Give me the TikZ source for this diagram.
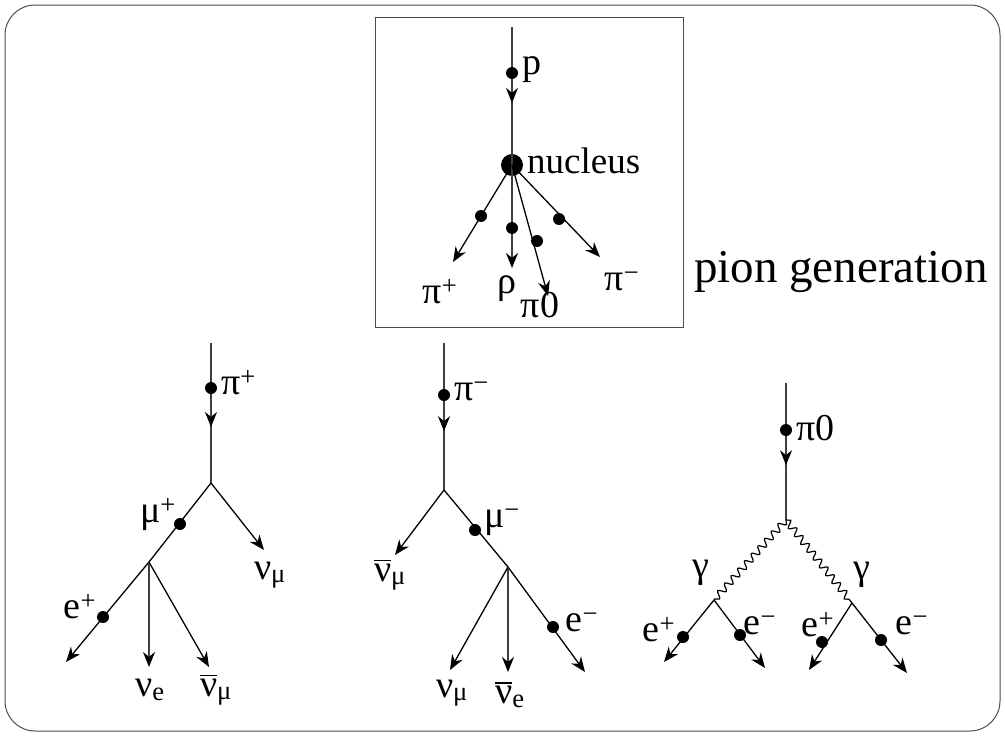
\documentclass[tikz,border=0pt]{standalone}
\usepackage{fontspec}
\setmainfont{Liberation Serif}
\usetikzlibrary{arrows.meta,decorations.markings,decorations.pathmorphing}
\newcommand{\mynubar}{{\setbox0\hbox{ν}\rlap{\rule[1.15\ht0]{\wd0}{1.5pt}}ν}}
\begin{document}
\begin{tikzpicture}[x=1pt,y=-1pt,
  ln/.style={line width=1.6pt,black!75},
  br/.style={line width=1.3pt,black,-{Stealth[length=15pt,width=12pt,black]}},
  mid/.style={postaction={decorate},decoration={markings,mark=at position #1 with {\arrow[black]{Stealth[length=15pt,width=12pt]}}}},
  dot/.style={circle,fill=black,inner sep=0pt,minimum size=12pt},
  lab/.style={font=\fontsize{38}{38}\selectfont,inner sep=1pt},
  wav/.style={line width=1.2pt,decorate,decoration={snake,amplitude=3.5pt,segment length=10pt}}]
\useasboundingbox (0,0) rectangle (1005,736);
\draw[line width=1pt,black!70,rounded corners=30pt] (5,5) rectangle (1000,731);
\draw[line width=1pt,black!70] (375,17) rectangle (683,327);
% top
\coordinate (t0) at (512,27);
\node[circle,fill=black,inner sep=0pt,minimum size=22pt] (nuc) at (512,165) {};
\draw[ln,mid=0.55] (t0) -- (nuc.center);
\node[dot] (pd) at (512,73) {};
\node[lab,anchor=west] (pl) at (521,70) {p};
\node[lab,anchor=west,font=\fontsize{37}{37}\selectfont] (nl) at (526,161) {nucleus};
\coordinate (a1) at (453,262); \coordinate (a2) at (512,268); \coordinate (a3) at (548,296); \coordinate (a4) at (600,257);
\draw[br] (nuc.center) -- (a1); \draw[br,black!75,line width=1.6pt] (nuc.center) -- (a2);
\draw[br] (nuc.center) -- (a3); \draw[br] (nuc.center) -- (a4);
\node[dot] at (481,216) {}; \node[dot] at (512,228) {}; \node[dot] at (537,241) {}; \node[dot] at (559,219) {};
\node[lab] at (440,292) {π\textsuperscript{+}};
\node[lab] at (507,289) {ρ};
\node[lab] at (540,305) {π0};
\node[lab] at (622,281) {π\textsuperscript{−}};
\node[font=\fontsize{47}{47}\selectfont] (pg) at (841,272) {pion generation};
% pi+
\coordinate (b0) at (211,343); \coordinate (b1) at (211,483); \coordinate (b2) at (149,562);
\draw[ln,mid=0.6] (b0) -- (b1);
\node[dot] at (211,388) {}; \node[lab,anchor=west] at (220,383) {π\textsuperscript{+}};
\draw[br] (b1) -- (264,550); \node[lab] at (270,575) {ν\textsubscript{μ}};
\draw[line width=1.3pt] (b1) -- (b2);
\draw[br] (b2) -- (66,662);
\node[dot] at (180,524) {}; \node[lab] at (158,515) {μ\textsuperscript{+}};
\node[dot] at (103,617) {}; \node[lab] at (80,607) {e\textsuperscript{+}};
\draw[br,black!75,line width=1.6pt] (b2) -- (149,667); \node[lab] at (150,690) {ν\textsubscript{e}};
\draw[br] (b2) -- (209,667); \node[lab] at (216,690) {\mynubar\textsubscript{μ}};
% pi-
\coordinate (c0) at (444,343); \coordinate (c1) at (444,490); \coordinate (c2) at (508,567);
\draw[ln,mid=0.6] (c0) -- (c1);
\node[dot] at (444,395) {}; \node[lab,anchor=west] at (453,391) {π\textsuperscript{−}};
\draw[br] (c1) -- (395,555); \node[lab] at (390,575) {\mynubar\textsubscript{μ}};
\draw[line width=1.3pt] (c1) -- (c2);
\draw[br] (c2) -- (585,672);
\node[dot] at (475,530) {}; \node[lab] at (502,522) {μ\textsuperscript{−}};
\node[dot] at (553,627) {}; \node[lab] at (582,622) {e\textsuperscript{−}};
\draw[br,black!75,line width=1.6pt] (c2) -- (508,672); \node[lab] at (510,695) {\mynubar\textsubscript{e}};
\draw[br] (c2) -- (450,670); \node[lab] at (452,693) {ν\textsubscript{μ}};
% pi0
\coordinate (d0) at (786,383); \coordinate (d1) at (786,520);
\coordinate (g1) at (714,600); \coordinate (g2) at (852,603);
\draw[ln,mid=0.6] (d0) -- (d1);
\node[dot] at (786,430) {}; \node[lab,anchor=west] at (795,428) {π0};
\draw[wav] (d1) -- (g1); \draw[wav] (d1) -- (g2);
\node[lab] at (701,573) {γ}; \node[lab] at (862,575) {γ};
\draw[br] (g1) -- (664,662); \draw[br] (g1) -- (765,668);
\draw[br] (g2) -- (809,670); \draw[br] (g2) -- (907,673);
\node[dot] at (683,637) {}; \node[dot] at (740,635) {};
\node[dot] at (822,642) {}; \node[dot] at (881,640) {};
\node[lab] at (659,630) {e\textsuperscript{+}}; \node[lab] at (760,625) {e\textsuperscript{−}};
\node[lab] at (818,625) {e\textsuperscript{+}}; \node[lab] at (912,625) {e\textsuperscript{−}};
\end{tikzpicture}
\end{document}
